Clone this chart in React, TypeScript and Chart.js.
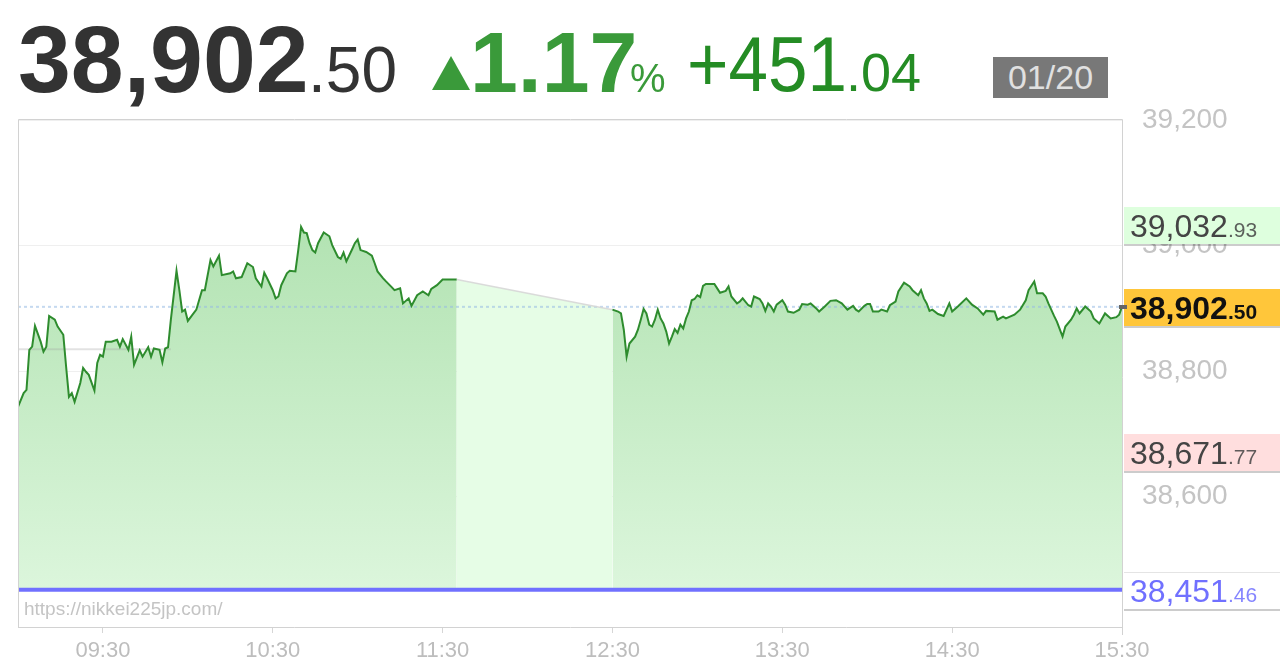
import React, { useEffect, useRef } from "react";
import { Chart, registerables } from "chart.js";

Chart.register(...registerables);

const FONT = "'Liberation Sans', Arial, Helvetica, sans-serif";

// ---- data -----------------------------------------------------------------
const morningTimes = [
  "09:00", "09:02", "09:03", "09:04", "09:05", "09:06", "09:08", "09:09", "09:10", "09:11",
  "09:13", "09:14", "09:16", "09:17", "09:18", "09:19", "09:20", "09:22", "09:23", "09:24",
  "09:25", "09:27", "09:28", "09:29", "09:30", "09:31", "09:33", "09:35", "09:36", "09:37",
  "09:39", "09:40", "09:41", "09:43", "09:44", "09:46", "09:47", "09:48", "09:50", "09:51",
  "09:52", "09:53", "09:54", "09:56", "09:57", "09:58", "09:59", "10:00", "10:03", "10:05",
  "10:06", "10:08", "10:09", "10:11", "10:12", "10:15", "10:16", "10:17", "10:19", "10:21",
  "10:23", "10:24", "10:26", "10:27", "10:28", "10:30", "10:31", "10:32", "10:33", "10:35",
  "10:36", "10:38", "10:39", "10:40", "10:41", "10:42", "10:43", "10:44", "10:45", "10:46",
  "10:48", "10:50", "10:51", "10:53", "10:54", "10:55", "10:56", "10:58", "10:59", "11:00",
  "11:01", "11:03", "11:05", "11:06", "11:07", "11:09", "11:10", "11:12", "11:13", "11:15",
  "11:16", "11:18", "11:19", "11:21", "11:23", "11:25", "11:26", "11:28", "11:30", "11:35",
];
const morningPrices = [
  38743, 38765, 38770, 38834, 38839, 38872, 38847, 38831, 38839, 38888,
  38882, 38871, 38858, 38807, 38759, 38765, 38751, 38781, 38805, 38799,
  38794, 38769, 38813, 38826, 38823, 38847, 38847, 38850, 38839, 38851,
  38834, 38855, 38810, 38833, 38823, 38838, 38823, 38836, 38834, 38814,
  38836, 38838, 38882, 38960, 38929, 38895, 38898, 38880, 38898, 38929,
  38929, 38977, 38967, 38984, 38953, 38956, 38959, 38948, 38950, 38972,
  38966, 38948, 38935, 38957, 38948, 38929, 38916, 38919, 38937, 38956,
  38960, 38959, 38993, 39030, 39021, 39020, 39004, 38993, 38989, 39004,
  39021, 39015, 39001, 38982, 38979, 38989, 38975, 38994, 39004, 39010,
  38993, 38990, 38984, 38972, 38959, 38948, 38943, 38934, 38929, 38932,
  38908, 38916, 38904, 38921, 38927, 38921, 38931, 38937, 38946, 38946,
];
const afternoonTimes = [
  "12:30", "12:32", "12:33", "12:34", "12:35", "12:36", "12:38", "12:39", "12:40", "12:41",
  "12:42", "12:43", "12:44", "12:45", "12:46", "12:47", "12:48", "12:49", "12:50", "12:51",
  "12:52", "12:53", "12:54", "12:55", "12:56", "12:57", "12:58", "12:59", "13:00", "13:01",
  "13:02", "13:03", "13:06", "13:07", "13:08", "13:10", "13:11", "13:12", "13:14", "13:15",
  "13:16", "13:18", "13:19", "13:20", "13:22", "13:23", "13:24", "13:25", "13:26", "13:27",
  "13:28", "13:30", "13:31", "13:32", "13:34", "13:36", "13:37", "13:39", "13:40", "13:42",
  "13:43", "13:45", "13:47", "13:49", "13:51", "13:53", "13:55", "13:56", "13:57", "13:59",
  "14:00", "14:01", "14:02", "14:04", "14:05", "14:07", "14:08", "14:10", "14:11", "14:13",
  "14:15", "14:16", "14:18", "14:19", "14:20", "14:21", "14:22", "14:23", "14:25", "14:27",
  "14:29", "14:30", "14:32", "14:35", "14:37", "14:39", "14:41", "14:42", "14:45", "14:46",
  "14:48", "14:49", "14:52", "14:54", "14:56", "14:57", "14:59", "15:00", "15:02", "15:03",
  "15:04", "15:06", "15:07", "15:09", "15:10", "15:12", "15:13", "15:14", "15:15", "15:17",
  "15:19", "15:20", "15:22", "15:24", "15:26", "15:28", "15:29", "15:30",
];
const afternoonPrices = [
  38898, 38895, 38892, 38866, 38823, 38844, 38855, 38866, 38882, 38899,
  38892, 38874, 38871, 38882, 38898, 38884, 38876, 38863, 38844, 38855,
  38867, 38861, 38874, 38868, 38884, 38895, 38913, 38915, 38921, 38918,
  38936, 38939, 38939, 38932, 38925, 38928, 38935, 38919, 38908, 38911,
  38916, 38905, 38903, 38919, 38915, 38908, 38896, 38908, 38903, 38895,
  38906, 38913, 38906, 38895, 38893, 38898, 38907, 38906, 38908, 38900,
  38895, 38903, 38912, 38913, 38908, 38898, 38904, 38898, 38895, 38904,
  38907, 38907, 38895, 38895, 38898, 38895, 38905, 38911, 38927, 38941,
  38935, 38929, 38921, 38929, 38916, 38908, 38896, 38898, 38891, 38888,
  38908, 38895, 38903, 38916, 38906, 38900, 38890, 38896, 38895, 38882,
  38887, 38884, 38890, 38898, 38913, 38929, 38943, 38924, 38924, 38919,
  38908, 38888, 38879, 38855, 38871, 38882, 38890, 38900, 38892, 38903,
  38895, 38884, 38876, 38892, 38884, 38886, 38890, 38902.5,
];

const xTickLabels = ["09:30", "10:30", "11:30", "12:30", "13:30", "14:30", "15:30"];
const yTickValues = [38600, 38800, 39000, 39200];
const axisStart = "09:00";
const axisEnd = "15:30";
const yMin = 38392;
const yMax = 39202;

const currentPrice = 38902.5;
const dayHigh = 39032.93;
const dayLow = 38671.77;
const prevClose = 38451.46;
const openRef = 38835;
const openRefEnd = "09:54";
const changePct = 1.17;
const changePts = 451.04;
const dateLabel = "01/20";
const watermark = "https://nikkei225jp.com/";

// ---- helpers --------------------------------------------------------------
const toMin = (t: string) => {
  const [h, m] = t.split(":").map(Number);
  const [h0, m0] = axisStart.split(":").map(Number);
  return h * 60 + m - (h0 * 60 + m0);
};
const fmtInt = (v: number) => Math.floor(v).toLocaleString("en-US");
const fmtDec = (v: number) => "." + v.toFixed(2).split(".")[1];

const LINE_GREEN = "rgb(46,140,46)";

const overlay = {
  id: "overlay",
  afterDraw(chart: any) {
    const { ctx, chartArea, scales } = chart;
    const ys = scales.y;
    ctx.save();
    // frame
    ctx.strokeStyle = "#d2d2d2";
    ctx.lineWidth = 1;
    ctx.beginPath();
    ctx.moveTo(chartArea.left + 0.5, chartArea.bottom);
    ctx.lineTo(chartArea.left + 0.5, chartArea.top + 0.5);
    ctx.lineTo(chartArea.right + 0.5, chartArea.top + 0.5);
    ctx.lineTo(chartArea.right + 0.5, chartArea.bottom + 8);
    ctx.stroke();

    // watermark
    ctx.fillStyle = "#c4c4c4";
    ctx.font = `19px ${FONT}`;
    ctx.textBaseline = "middle";
    ctx.textAlign = "left";
    ctx.fillText(watermark, chartArea.left + 6, 610);

    // value boxes
    const left = chartArea.right + 2;
    const w = chart.width - left;
    const box = (value: number, bg: string, color: string, bold: boolean, framed: boolean) => {
      const y = Math.round(ys.getPixelForValue(value));
      const top = y - 18;
      const h = 37;
      ctx.fillStyle = bg;
      ctx.fillRect(left, top, w, h);
      if (framed) {
        ctx.fillStyle = "#e4e4e4";
        ctx.fillRect(left, top, w, 1);
      }
      ctx.fillStyle = "rgba(0,0,0,0.2)";
      ctx.fillRect(left, top + h, w, 2);
      ctx.fillStyle = color;
      ctx.textBaseline = "alphabetic";
      ctx.font = `${bold ? "bold " : ""}32px ${FONT}`;
      const main = fmtInt(value);
      ctx.fillText(main, left + 6, y + 12);
      const mw = ctx.measureText(main).width;
      ctx.font = `${bold ? "bold " : ""}21px ${FONT}`;
      ctx.globalAlpha = bold ? 1 : 0.85;
      ctx.fillText(fmtDec(value), left + 6 + mw, y + 12);
      ctx.globalAlpha = 1;
    };
    box(dayHigh, "rgb(222,255,222)", "#444", false, false);
    box(dayLow, "rgb(255,222,222)", "#444", false, false);
    box(prevClose, "#ffffff", "rgb(112,112,255)", false, true);
    box(currentPrice, "rgb(255,198,58)", "#111", true, false);

    // current-price marker
    const cy = Math.round(ys.getPixelForValue(currentPrice));
    ctx.fillStyle = "#666";
    ctx.fillRect(chartArea.right - 3, cy - 2, 8, 4);
    ctx.restore();
  },
};

function ChartCanvas() {
  const ref = useRef<HTMLCanvasElement | null>(null);
  useEffect(() => {
    if (!ref.current) return;
    const times = [...morningTimes, ...afternoonTimes];
    const prices = [...morningPrices, ...afternoonPrices];
    const points = times.map((t, i) => ({ x: toMin(t), y: prices[i] }));
    const x0 = toMin(axisStart);
    const x1 = toMin(axisEnd);
    const isGap = (c: any) => c.p1.parsed.x - c.p0.parsed.x > 20;

    const chart = new Chart(ref.current, {
      type: "line",
      data: {
        datasets: [
          {
            data: points,
            borderColor: LINE_GREEN,
            borderWidth: 2,
            pointRadius: 0,
            tension: 0,
            fill: { value: prevClose },
            backgroundColor: (c: any) => {
              const { chart: ch } = c;
              const area = ch.chartArea;
              if (!area) return "rgb(190,232,190)";
              const g = ch.ctx.createLinearGradient(0, area.top, 0, area.bottom - 36);
              g.addColorStop(0, "rgb(166,221,166)");
              g.addColorStop(1, "rgb(220,246,220)");
              return g;
            },
            segment: {
              borderColor: (c: any) => (isGap(c) ? "rgba(215,215,215,0.9)" : undefined),
              borderWidth: (c: any) => (isGap(c) ? 1.5 : undefined),
              backgroundColor: (c: any) => (isGap(c) ? "rgb(230,253,230)" : undefined),
            },
            order: 0,
          } as any,
          {
            data: [{ x: x0, y: currentPrice }, { x: x1, y: currentPrice }],
            borderColor: "rgba(150,185,228,0.55)",
            borderDash: [3, 3],
            borderWidth: 2,
            pointRadius: 0,
            fill: false,
            order: 2,
          },
          {
            data: [{ x: x0, y: openRef }, { x: toMin(openRefEnd), y: openRef }],
            borderColor: "rgba(160,160,160,0.3)",
            borderWidth: 2,
            pointRadius: 0,
            fill: false,
            order: 3,
          },
          {
            data: [{ x: x0, y: prevClose }, { x: x1, y: prevClose }],
            borderColor: "rgb(112,112,255)",
            borderWidth: 4,
            pointRadius: 0,
            fill: false,
            order: 1,
          },
        ],
      },
      options: {
        animation: false,
        responsive: false,
        maintainAspectRatio: false,
        events: [],
        layout: { padding: { left: 18, top: 119, right: 0, bottom: 0 } },
        plugins: {
          legend: { display: false },
          tooltip: { enabled: false },
          filler: { drawTime: "beforeDatasetsDraw" } as any,
        },
        scales: {
          x: {
            type: "linear",
            min: x0,
            max: x1,
            afterBuildTicks: (s: any) => {
              s.ticks = xTickLabels.map((l) => ({ value: toMin(l) }));
            },
            afterFit: (s: any) => {
              s.height = 42;
            },
            ticks: {
              autoSkip: false,
              maxRotation: 0,
              padding: 5,
              color: "#bdbdbd",
              font: { family: FONT, size: 22 },
              callback: (v: any) => {
                const i = xTickLabels.findIndex((l) => toMin(l) === v);
                return i >= 0 ? xTickLabels[i] : "";
              },
            },
            grid: { drawOnChartArea: false, drawTicks: true, tickLength: 6, color: "#d6d6d6" },
            border: { color: "#d2d2d2" },
          },
          y: {
            position: "right",
            min: yMin,
            max: yMax,
            afterBuildTicks: (s: any) => {
              s.ticks = yTickValues.map((v) => ({ value: v }));
            },
            afterFit: (s: any) => {
              s.width = 158;
            },
            ticks: {
              padding: 20,
              color: "#c4c4c4",
              font: { family: FONT, size: 28 },
              callback: (v: any) => Number(v).toLocaleString("en-US"),
            },
            grid: { color: "#efefef", drawTicks: false },
            border: { display: false },
          },
        },
      } as any,
      plugins: [overlay],
    });
    return () => chart.destroy();
  }, []);
  return (
    <canvas
      ref={ref}
      width={1280}
      height={669}
      style={{ position: "absolute", left: 0, top: 0, width: 1280, height: 669 }}
    />
  );
}

const txt = (
  left: number,
  baseline: number,
  size: number,
  weight: string,
  color: string,
  sx = 1
): React.CSSProperties => ({
  position: "absolute",
  left,
  top: baseline - 0.8465 * size,
  fontSize: size,
  lineHeight: `${size}px`,
  fontWeight: weight as any,
  color,
  whiteSpace: "nowrap",
  fontFamily: FONT,
  transform: sx !== 1 ? `scaleX(${sx})` : undefined,
  transformOrigin: "left center",
});

export default function App() {
  const GREEN = "rgb(58,154,58)";
  const GREEN2 = "rgb(36,140,36)";
  return (
    <div
      style={{
        position: "fixed",
        left: 0,
        top: 0,
        width: 1280,
        height: 669,
        background: "#fff",
        overflow: "hidden",
      }}
    >
      <ChartCanvas />
      <span style={txt(18, 92, 95, "bold", "#333")}>{fmtInt(currentPrice)}</span>
      <span style={txt(308, 92, 64, "normal", "#333")}>{fmtDec(currentPrice)}</span>
      <div
        style={{
          position: "absolute",
          left: 432,
          top: 56,
          width: 0,
          height: 0,
          borderLeft: "19px solid transparent",
          borderRight: "19px solid transparent",
          borderBottom: `34px solid ${GREEN}`,
        }}
      />
      <span style={txt(470, 92, 86, "bold", GREEN)}>{changePct.toFixed(2)}</span>
      <span style={txt(630, 92, 40, "normal", GREEN)}>%</span>
      <span style={txt(687, 91, 78, "normal", GREEN2, 0.91)}>{"+" + fmtInt(changePts)}</span>
      <span style={txt(846, 91, 54, "normal", GREEN2)}>{fmtDec(changePts)}</span>
      <div
        style={{
          position: "absolute",
          left: 993,
          top: 57,
          width: 115,
          height: 41,
          background: "rgb(120,120,120)",
          color: "#e0e0e0",
          fontFamily: FONT,
          fontSize: 34,
          lineHeight: "41px",
          textAlign: "center",
        }}
      >
        {dateLabel}
      </div>
    </div>
  );
}
